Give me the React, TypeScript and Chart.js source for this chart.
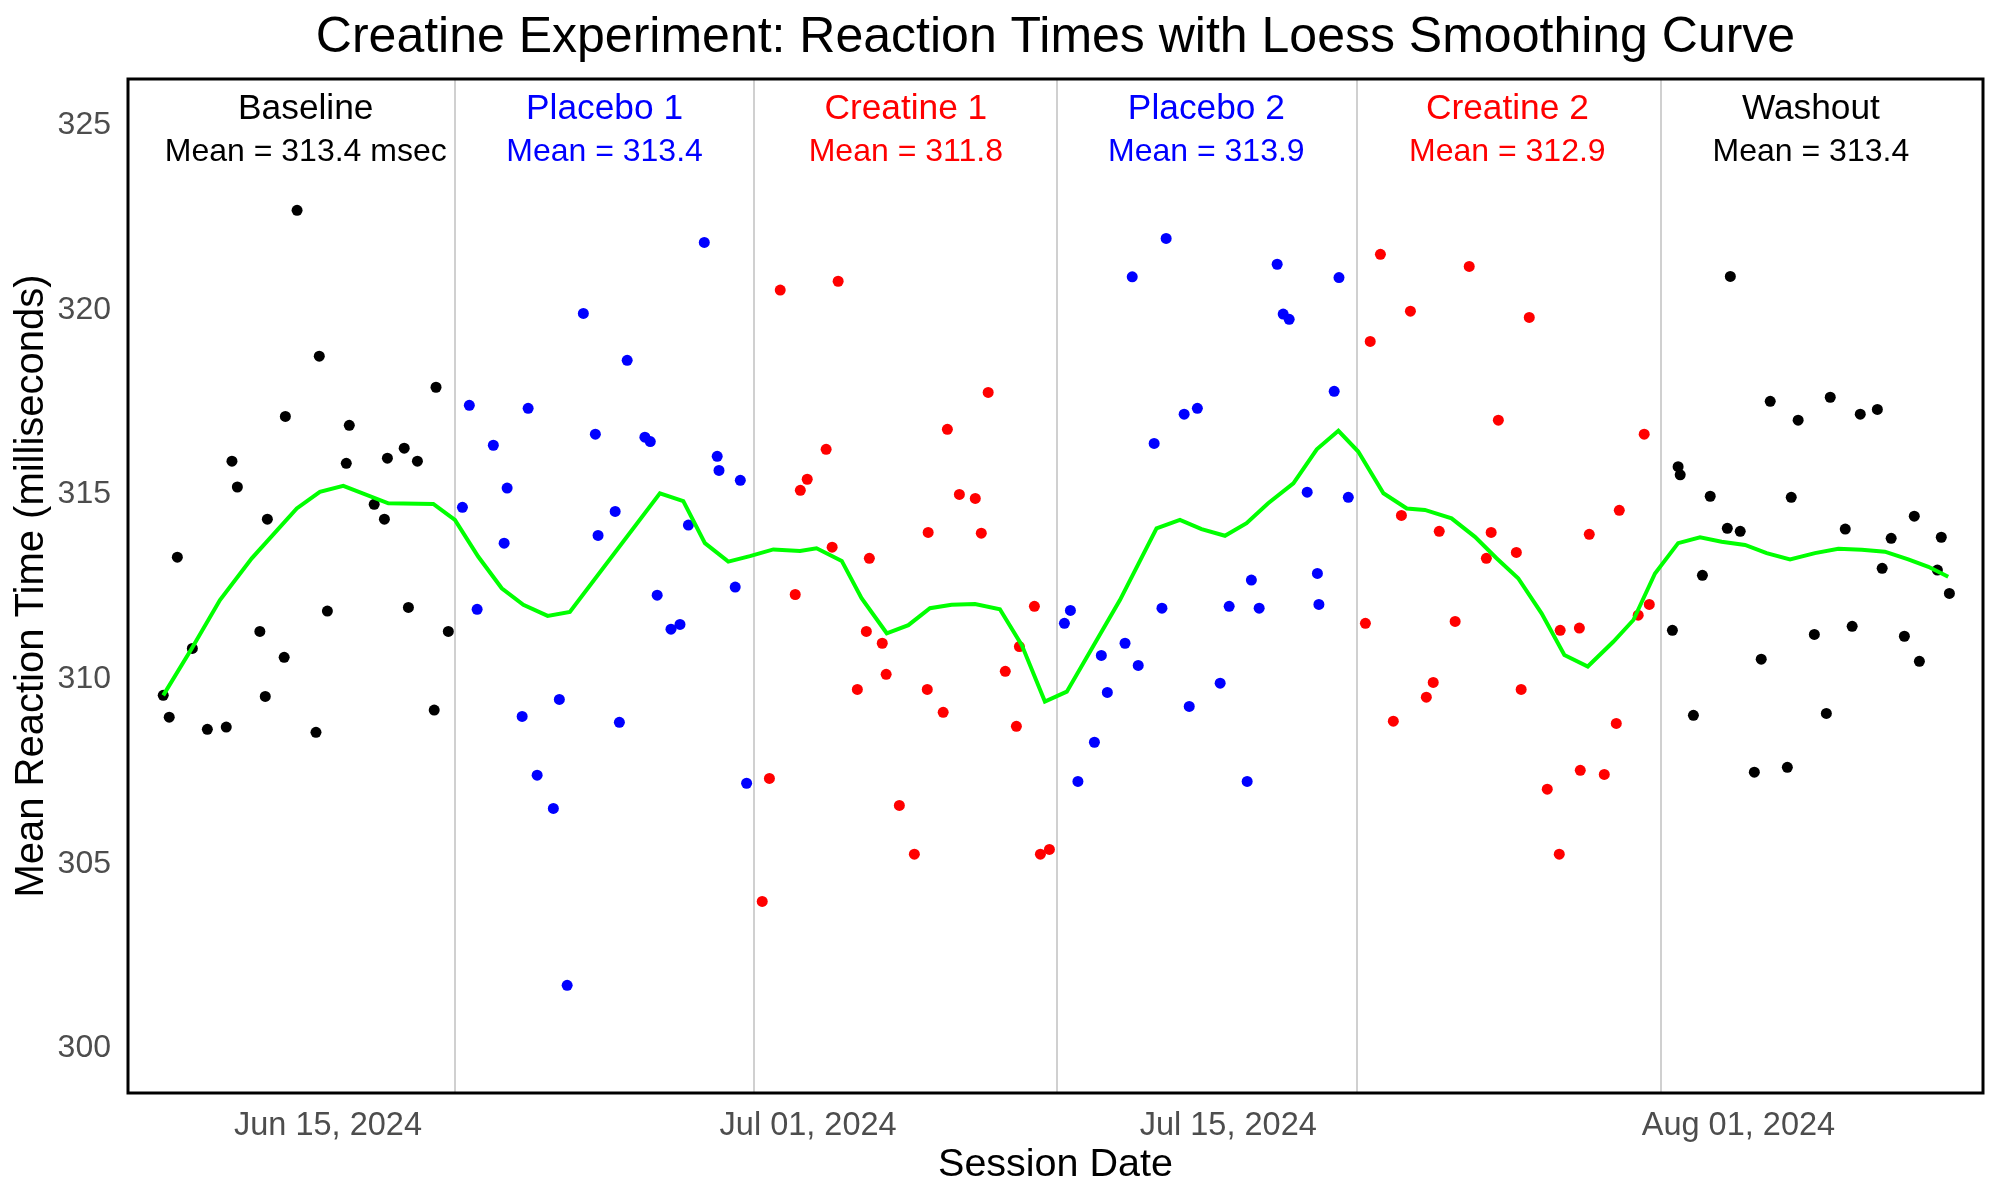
import React, { useEffect, useRef } from "react";
import { Chart, registerables } from "chart.js";

Chart.register(...registerables);

const FONT = "'Liberation Sans', Arial, Helvetica, sans-serif";

// Session time in days, counted so that Jun 1, 2024 = 1 (Jul 1 = 31, Aug 1 = 62)
const baselineDays = [9.51, 9.71, 9.98, 10.48, 10.98, 11.61, 11.80, 11.98, 12.73, 12.91, 12.98, 13.54, 13.58, 13.97, 14.60, 14.71, 14.98, 15.61, 15.71, 16.54, 16.88, 16.98, 17.54, 17.68, 17.98, 18.54, 18.60, 19.01];
const baselineMs = [309.56, 308.97, 313.30, 310.83, 308.64, 308.70, 315.90, 315.20, 311.29, 309.53, 314.33, 310.59, 317.11, 322.69, 308.56, 318.74, 311.84, 315.84, 316.87, 314.73, 314.33, 315.98, 316.25, 311.94, 315.90, 309.16, 317.90, 311.29];

const placebo1Days = [19.48, 19.71, 19.97, 20.51, 20.87, 20.97, 21.47, 21.67, 21.97, 22.51, 22.71, 22.97, 23.51, 23.91, 24.00, 24.57, 24.71, 24.97, 25.56, 25.74, 25.97, 26.43, 26.73, 27.01, 27.54, 27.97, 28.03, 28.57, 28.74, 28.95];
const placebo1Ms = [314.65, 317.41, 311.89, 316.33, 313.68, 315.17, 308.99, 317.33, 307.40, 306.50, 309.45, 301.71, 319.90, 316.63, 313.89, 314.54, 308.83, 318.63, 316.55, 316.43, 312.27, 311.35, 311.48, 314.17, 321.82, 316.03, 315.65, 312.49, 315.38, 307.18];

const creatine1Days = [29.47, 29.71, 30.07, 30.57, 30.74, 30.97, 31.60, 31.80, 32.00, 32.64, 32.94, 33.04, 33.47, 33.60, 34.04, 34.54, 34.97, 35.00, 35.50, 35.64, 36.04, 36.57, 36.77, 37.00, 37.57, 37.94, 38.04, 38.54, 38.74, 39.04];
const creatine1Ms = [303.98, 307.31, 320.53, 312.29, 315.11, 315.41, 316.22, 313.57, 320.77, 309.72, 311.29, 313.27, 310.97, 310.13, 306.58, 305.26, 309.72, 313.97, 309.10, 316.76, 315.00, 314.89, 313.95, 317.76, 310.21, 308.72, 310.88, 311.97, 305.26, 305.39];

const placebo2Days = [39.54, 39.74, 39.99, 40.54, 40.77, 40.97, 41.56, 41.80, 42.00, 42.53, 42.79, 42.93, 43.53, 43.70, 43.97, 44.73, 45.03, 45.63, 45.77, 46.03, 46.63, 46.83, 47.03, 47.63, 47.97, 48.02, 48.53, 48.69, 49.00];
const placebo2Ms = [311.51, 311.86, 307.23, 308.29, 310.64, 309.64, 310.97, 320.89, 310.37, 316.38, 311.92, 321.93, 317.17, 309.26, 317.33, 309.89, 311.97, 307.23, 312.68, 311.92, 321.23, 319.88, 319.74, 315.06, 312.86, 312.02, 317.79, 320.87, 314.92];

const creatine2Days = [49.57, 49.73, 50.07, 50.50, 50.77, 51.07, 51.60, 51.83, 52.03, 52.56, 53.03, 53.60, 53.76, 54.00, 54.60, 54.76, 55.03, 55.63, 56.03, 56.06, 56.70, 56.73, 57.03, 57.53, 57.93, 58.03, 58.66, 58.86, 59.03];
const creatine2Ms = [311.51, 319.14, 321.50, 308.86, 314.43, 319.96, 309.51, 309.91, 314.00, 311.56, 321.17, 313.27, 313.97, 317.01, 313.43, 309.72, 319.79, 307.02, 305.26, 311.32, 311.38, 307.53, 313.92, 307.42, 308.80, 314.57, 311.73, 316.63, 312.02];

const washoutDays = [59.80, 59.99, 60.06, 60.50, 60.80, 61.06, 61.63, 61.73, 62.06, 62.53, 62.76, 63.06, 63.63, 63.76, 63.99, 64.53, 64.93, 65.06, 65.56, 65.79, 66.06, 66.63, 66.79, 67.09, 67.53, 67.86, 68.03, 68.63, 68.76, 69.03];
const washoutMs = [311.32, 315.75, 315.53, 309.02, 312.81, 314.95, 314.08, 320.90, 314.00, 307.48, 310.54, 317.52, 307.61, 314.92, 317.01, 311.21, 309.07, 317.63, 314.06, 311.43, 317.17, 317.30, 313.00, 313.81, 311.16, 314.41, 310.48, 312.95, 313.84, 312.32];

const loessDays = [9.51, 10.46, 11.40, 12.46, 13.96, 14.73, 15.51, 17.01, 18.51, 19.23, 20.01, 20.79, 21.51, 22.32, 23.06, 26.06, 26.84, 27.56, 28.34, 29.06, 29.84, 30.73, 31.28, 32.12, 32.78, 33.62, 34.34, 35.06, 35.78, 36.56, 37.39, 38.12, 38.89, 39.62, 41.39, 42.61, 43.39, 44.11, 44.89, 45.61, 46.33, 47.17, 47.95, 48.67, 49.33, 50.17, 50.95, 51.55, 52.44, 53.22, 53.94, 54.66, 55.44, 56.20, 56.98, 57.83, 58.50, 59.22, 59.99, 60.72, 61.44, 62.22, 62.94, 63.72, 64.55, 65.33, 66.11, 66.88, 67.66, 68.33, 68.99];
const loessMs = [309.56, 310.83, 312.14, 313.27, 314.62, 315.07, 315.23, 314.76, 314.74, 314.31, 313.31, 312.46, 312.01, 311.71, 311.82, 315.03, 314.82, 313.68, 313.18, 313.33, 313.51, 313.47, 313.54, 313.20, 312.19, 311.24, 311.46, 311.92, 312.01, 312.03, 311.89, 310.92, 309.39, 309.66, 312.14, 314.08, 314.31, 314.06, 313.88, 314.22, 314.76, 315.30, 316.22, 316.72, 316.16, 315.03, 314.62, 314.58, 314.35, 313.85, 313.27, 312.73, 311.78, 310.65, 310.34, 311.01, 311.60, 312.86, 313.68, 313.84, 313.72, 313.63, 313.41, 313.24, 313.41, 313.53, 313.50, 313.45, 313.24, 313.04, 312.77];

const phaseNames = ["Baseline", "Placebo 1", "Creatine 1", "Placebo 2", "Creatine 2", "Washout"];
const phaseMeanLabels = ["Mean = 313.4 msec", "Mean = 313.4", "Mean = 311.8", "Mean = 313.9", "Mean = 312.9", "Mean = 313.4"];
const phaseColors = ["#000000", "#0000FF", "#FF0000", "#0000FF", "#FF0000", "#000000"];
const phaseDays = [baselineDays, placebo1Days, creatine1Days, placebo2Days, creatine2Days, washoutDays];
const phaseMs = [baselineMs, placebo1Ms, creatine1Ms, placebo2Ms, creatine2Ms, washoutMs];

const xTickDays = [15, 31, 45, 62];
const xTickLabels = ["Jun 15, 2024", "Jul 01, 2024", "Jul 15, 2024", "Aug 01, 2024"];
const yTicks = [300, 305, 310, 315, 320, 325];

const NAME_Y = 325.43;
const MEAN_Y = 324.27;

const phasePlugin = {
  id: "phasePlugin",
  beforeDatasetsDraw(chart: any) {
    const { ctx, chartArea, scales } = chart;
    const x = scales.x;
    ctx.save();
    ctx.strokeStyle = "#D0D0D0";
    ctx.lineWidth = 2;
    for (let i = 0; i < phaseDays.length - 1; i++) {
      const a = phaseDays[i][phaseDays[i].length - 1];
      const b = phaseDays[i + 1][0];
      const px = Math.round(x.getPixelForValue((a + b) / 2));
      ctx.beginPath();
      ctx.moveTo(px, chartArea.top);
      ctx.lineTo(px, chartArea.bottom);
      ctx.stroke();
    }
    ctx.restore();
  },
  afterDatasetsDraw(chart: any) {
    const { ctx, scales } = chart;
    const x = scales.x;
    const y = scales.y;
    ctx.save();
    ctx.textAlign = "center";
    ctx.textBaseline = "middle";
    for (let i = 0; i < phaseNames.length; i++) {
      const d = phaseDays[i];
      const cx = x.getPixelForValue((d[0] + d[d.length - 1]) / 2);
      ctx.fillStyle = phaseColors[i];
      ctx.font = `35.3px ${FONT}`;
      ctx.fillText(phaseNames[i], cx, y.getPixelForValue(NAME_Y));
      ctx.font = `32px ${FONT}`;
      ctx.fillText(phaseMeanLabels[i], cx, y.getPixelForValue(MEAN_Y));
    }
    ctx.restore();
  },
  afterDraw(chart: any) {
    const { ctx, chartArea } = chart;
    ctx.save();
    ctx.strokeStyle = "#000000";
    ctx.lineWidth = 3;
    ctx.strokeRect(chartArea.left, chartArea.top, chartArea.right - chartArea.left, chartArea.bottom - chartArea.top);
    ctx.restore();
  },
};

export default function App() {
  const ref = useRef<HTMLCanvasElement>(null);

  useEffect(() => {
    document.body.style.margin = "0";
    const canvas = ref.current;
    if (!canvas) return;

    const datasets: any[] = [
      {
        label: "Loess",
        data: loessDays.map((d, i) => ({ x: d, y: loessMs[i] })),
        showLine: true,
        borderColor: "#00FF00",
        backgroundColor: "#00FF00",
        borderWidth: 4,
        pointRadius: 0,
        pointHoverRadius: 0,
        fill: false,
        tension: 0,
        order: 0,
      },
    ];
    phaseNames.forEach((name, i) => {
      datasets.push({
        label: name,
        data: phaseDays[i].map((d, j) => ({ x: d, y: phaseMs[i][j] })),
        backgroundColor: phaseColors[i],
        borderColor: phaseColors[i],
        borderWidth: 0,
        pointRadius: 5.5,
        showLine: false,
        order: 1,
      });
    });

    const chart = new Chart(canvas, {
      type: "scatter",
      data: { datasets },
      options: {
        responsive: false,
        animation: false,
        devicePixelRatio: 1,
        layout: { padding: { left: 0, right: 17, top: 0, bottom: 0 } },
        plugins: {
          legend: { display: false },
          tooltip: { enabled: false },
          title: {
            display: true,
            text: "Creatine Experiment: Reaction Times with Loess Smoothing Curve",
            fullSize: false,
            color: "#000000",
            font: { family: FONT, size: 50, weight: "normal", lineHeight: 1.2 },
            padding: { top: 8.5, bottom: 10.5 },
          },
        },
        scales: {
          x: {
            type: "linear",
            min: 8.336,
            max: 70.15,
            grid: { display: false, drawTicks: false },
            border: { display: false },
            afterBuildTicks: (s: any) => {
              s.ticks = xTickDays.map((v) => ({ value: v }));
            },
            afterFit: (s: any) => {
              s.height = 107;
            },
            ticks: {
              autoSkip: false,
              maxRotation: 0,
              padding: 14,
              color: "#4D4D4D",
              font: { family: FONT, size: 32.5 },
              callback: (v: any) => {
                const k = xTickDays.findIndex((t) => Math.abs(t - v) < 1e-6);
                return k >= 0 ? xTickLabels[k] : "";
              },
            },
            title: {
              display: true,
              text: "Session Date",
              color: "#000000",
              font: { family: FONT, size: 39.5, lineHeight: 1.2 },
              padding: { top: 0, bottom: 10.8 },
            },
          },
          y: {
            type: "linear",
            min: 298.795,
            max: 326.245,
            grid: { display: false, drawTicks: false },
            border: { display: false },
            afterBuildTicks: (s: any) => {
              s.ticks = yTicks.map((v) => ({ value: v }));
            },
            afterFit: (s: any) => {
              s.width = 128;
            },
            ticks: {
              autoSkip: false,
              padding: 17,
              color: "#4D4D4D",
              font: { family: FONT, size: 32 },
              callback: (v: any) => String(v),
            },
            title: {
              display: true,
              text: "Mean Reaction Time (milliseconds)",
              color: "#000000",
              font: { family: FONT, size: 40, lineHeight: 1.2 },
              padding: { top: 8, bottom: 0 },
            },
          },
        },
      } as any,
      plugins: [phasePlugin],
    });

    return () => chart.destroy();
  }, []);

  return (
    <div style={{ position: "absolute", left: 0, top: 0, width: 2000, height: 1200, background: "#FFFFFF" }}>
      <canvas ref={ref} width={2000} height={1200} style={{ width: 2000, height: 1200, display: "block" }} />
    </div>
  );
}
